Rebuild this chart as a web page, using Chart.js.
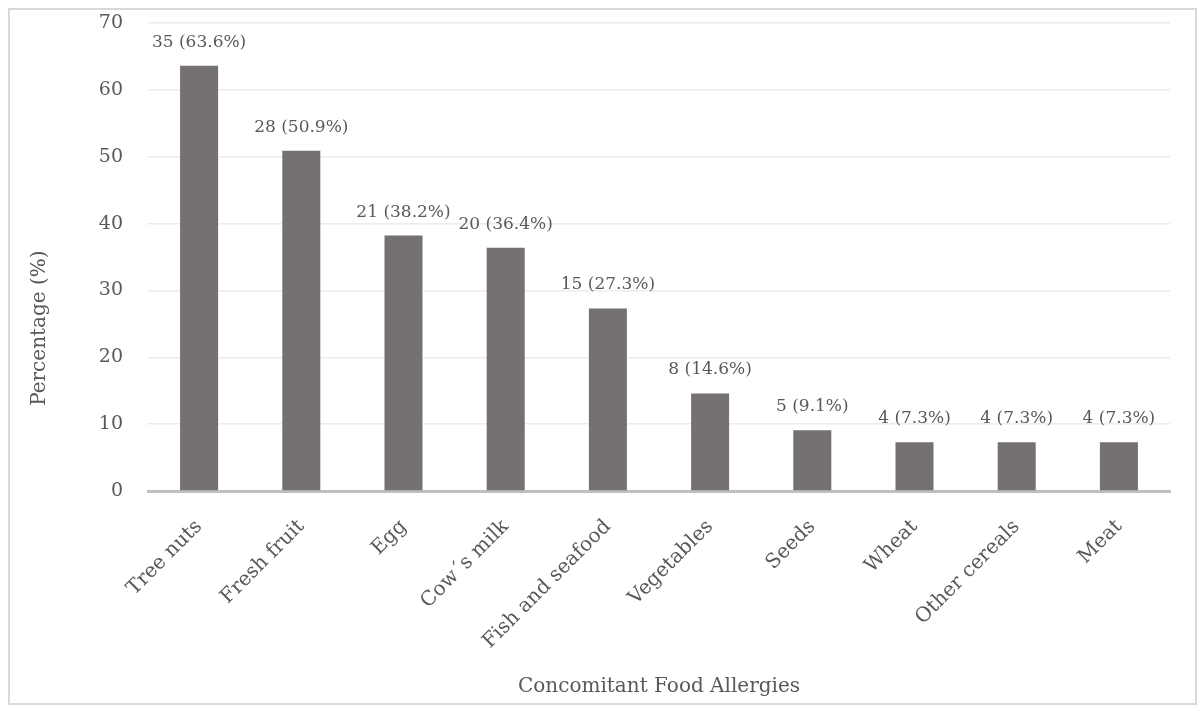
<!DOCTYPE html>
<html lang="en">
<head>
  <meta charset="UTF-8" />
  <title>Concomitant Food Allergies</title>
  <script src="https://cdn.jsdelivr.net/npm/chart.js"></script>
  <style>
    body{margin:0;padding:0;background:#fff}
    #marco{position:absolute;left:8px;top:8px;width:1189px;height:697px;box-sizing:border-box;border:2px solid #d9d9d9;background:#fff}
    #marco canvas{display:block}
  </style>
</head>
<body>
  <div id="marco"><canvas id="grafico"></canvas></div>

<script>
/* ----- datos ----- */
const categorias = ["Tree nuts","Fresh fruit","Egg","Cow\u00b4s milk","Fish and seafood","Vegetables","Seeds","Wheat","Other cereals","Meat"];
const porcentajes = [63.6, 50.9, 38.2, 36.4, 27.3, 14.6, 9.1, 7.3, 7.3, 7.3];
const casos = [35, 28, 21, 20, 15, 8, 5, 4, 4, 4];
const ticksY = [0, 10, 20, 30, 40, 50, 60, 70];

const FUENTE = "'DejaVu Serif', 'Liberation Serif', serif";
const GRIS_TEXTO = "#595959";

/* etiquetas encima de cada barra */
const etiquetasBarras = {
  id: "etiquetasBarras",
  afterDatasetsDraw(chart){
    const ctx = chart.ctx;
    const meta = chart.getDatasetMeta(0);
    ctx.save();
    ctx.font = "17px " + FUENTE;
    ctx.fillStyle = GRIS_TEXTO;
    ctx.textAlign = "center";
    ctx.textBaseline = "alphabetic";
    meta.data.forEach((bar, i) => {
      ctx.fillText(`${casos[i]} (${porcentajes[i]}%)`, bar.x, bar.y - 19);
    });
    ctx.restore();
  }
};

/* título del eje Y (en el original no está centrado) */
const tituloY = {
  id: "tituloY",
  afterDraw(chart){
    const ctx = chart.ctx, a = chart.chartArea;
    ctx.save();
    ctx.font = "20px " + FUENTE;
    ctx.fillStyle = GRIS_TEXTO;
    ctx.textAlign = "center";
    ctx.textBaseline = "middle";
    ctx.translate(30, a.top + (a.bottom - a.top) * 0.652);
    ctx.rotate(-Math.PI / 2);
    ctx.fillText("Percentage (%)", 0, 0);
    ctx.restore();
  }
};

new Chart(document.getElementById("grafico"), {
  type: "bar",
  data: {
    labels: categorias,
    datasets: [{
      data: porcentajes,
      backgroundColor: "#767171",
      barPercentage: 0.372,
      categoryPercentage: 1
    }]
  },
  options: {
    responsive: true,
    maintainAspectRatio: false,
    animation: false,
    layout: { padding: { top: 13, right: 25, bottom: 0, left: 0 } },
    plugins: { legend: { display: false }, tooltip: { enabled: false } },
    scales: {
      x: {
        grid: { display: false },
        border: { color: "#bfbfbf", width: 3 },
        ticks: {
          color: GRIS_TEXTO,
          font: { family: FUENTE, size: 20 },
          minRotation: 45, maxRotation: 45,
          padding: 16
        },
        title: {
          display: true,
          text: "Concomitant Food Allergies",
          color: GRIS_TEXTO,
          font: { family: FUENTE, size: 20 },
          padding: { top: 4, bottom: 4 }
        },
        afterFit(scale){ scale.height = 212; scale.paddingLeft = 0; scale.paddingRight = 0; }
      },
      y: {
        min: 0, max: 70,
        afterBuildTicks(scale){ scale.ticks = ticksY.map(v => ({ value: v })); },
        grid: { color: "#ececec", lineWidth: 1.5, drawTicks: false },
        border: { display: false },
        ticks: {
          color: GRIS_TEXTO,
          font: { family: FUENTE, size: 19 },
          padding: 25
        },
        afterFit(scale){ scale.width = 138; scale.paddingTop = 0; scale.paddingBottom = 0; }
      }
    }
  },
  plugins: [etiquetasBarras, tituloY]
});
</script>
</body>
</html>
